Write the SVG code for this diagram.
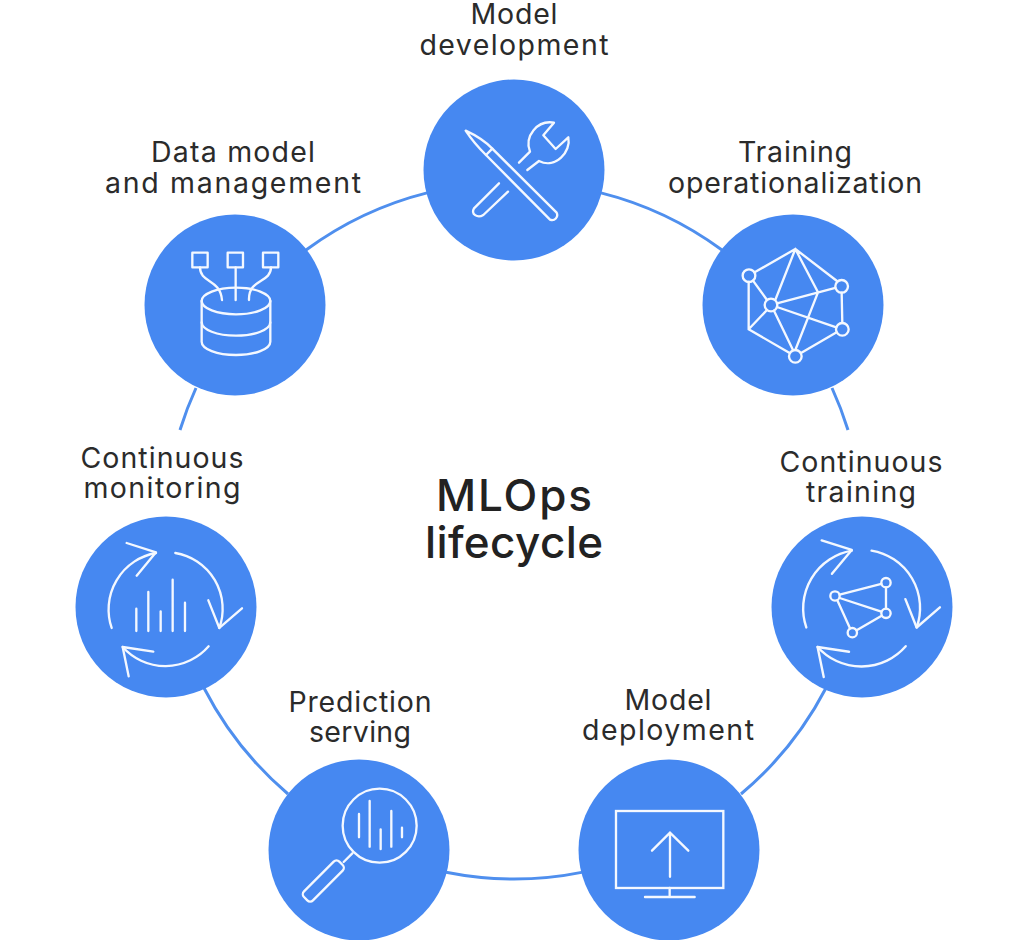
<svg xmlns="http://www.w3.org/2000/svg" width="1024" height="940" viewBox="0 0 1024 940">
<style>
.disc{fill:#4688f1}
.ring{fill:none;stroke:#4f8fee;stroke-width:3}
.ico{fill:none;stroke:#f4f8ff;stroke-width:7;stroke-linecap:round;stroke-linejoin:round}
.lbl{font-family:"Inter","Liberation Sans",sans-serif;font-size:28.5px;fill:#2b2b2b;text-anchor:middle}
.ttl{font-family:"Inter","Liberation Sans",sans-serif;font-size:44px;font-weight:500;fill:#222;text-anchor:middle}
</style>
<defs>
<g id="cycle-arcs">
<path d="M298 108A170 170 0 0 1 430 333"/><path d="M397 250L430 333L498 274"/>
<path d="M398 388A172 172 0 0 1 140 390"/><path d="M232 404L140 390L158 478"/>
<path d="M107 333A172 172 0 0 1 240 108"/><path d="M152 78L240 106L182 176"/>
</g>
</defs>
<g id="connectors">
<path class="ring" d="M180 430A348.6 348.6 0 0 1 196 388"/>
<path class="ring" d="M306 250A348.6 348.6 0 0 1 428 192.6"/>
<path class="ring" d="M600 192.6A348.6 348.6 0 0 1 722 250"/>
<path class="ring" d="M832 388A348.6 348.6 0 0 1 848 430"/>
<path class="ring" d="M826 688A348.6 348.6 0 0 1 741 794"/>
<path class="ring" d="M583 872.1A348.6 348.6 0 0 1 446 872.3"/>
<path class="ring" d="M288 794A348.6 348.6 0 0 1 204 688"/>
</g>
<g id="node-model-development">
<circle class="disc" cx="514" cy="170" r="90.5"/>
<g class="ico" transform="translate(424 80) scale(.3333)">
<path d="M125 152Q175 175 205 206L398 398C404 412 392 424 378 419L186 225Q150 190 125 152Z"/><path d="M186 225L205 206"/>
<path d="M225 310L150 385C140 402 160 416 178 405L252 335"/>
<path d="M285 248L318 215A65 65 0 0 1 390 128L358 166L395 207L433 172C442 215 395 268 345 243L310 270"/>
</g>
<text class="lbl"><tspan x="514" y="24" textLength="87">Model</tspan><tspan x="514" y="55" textLength="189">development</tspan></text>
</g>
<g id="node-data-model">
<circle class="disc" cx="235" cy="305" r="90.5"/>
<g class="ico" transform="translate(145 215) scale(.3333)">
<rect x="142" y="113" width="46" height="44"/><rect x="248" y="113" width="46" height="44"/><rect x="354" y="113" width="46" height="44"/>
<ellipse cx="273" cy="258" rx="103" ry="40"/>
<path d="M170 258V380C170 402 216 420 273 420S376 402 376 380V258"/><path d="M170 322C170 344 216 362 273 362S376 344 376 322"/>
<path d="M165 157C165 205 225 190 231 255"/><path d="M272 157V255"/><path d="M378 157C378 205 310 190 312 255"/>
</g>
<text class="lbl"><tspan x="233" y="162" textLength="164">Data model</tspan><tspan x="233" y="193" textLength="256">and management</tspan></text>
</g>
<g id="node-training-op">
<circle class="disc" cx="793" cy="305" r="90.5"/>
<g class="ico" transform="translate(703 215) scale(.3333)">
<circle cx="138" cy="182" r="19"/><circle cx="204" cy="270" r="19"/><circle cx="416" cy="214" r="19"/><circle cx="418" cy="343" r="19"/><circle cx="277" cy="424" r="19"/>
<path d="M155 172L277 102L402 198M416 233L418 324M401 352L294 414M260 414L137 343V201M150 197L192 255M277 102L218 252M277 102L345 232L277 405M222 265L397 219M222 276L400 337M192 285L137 343M213 287L270 405"/>
</g>
<text class="lbl"><tspan x="795" y="162" textLength="114">Training</tspan><tspan x="795" y="193" textLength="254">operationalization</tspan></text>
</g>
<g id="node-continuous-monitoring">
<circle class="disc" cx="166" cy="607" r="90.5"/>
<g class="ico" transform="translate(76 517) scale(.3333)">
<use href="#cycle-arcs"/>
<path d="M181 275V342M217 225V342M254 283V342M290 188V342M327 257V342"/>
</g>
<text class="lbl"><tspan x="162" y="468" textLength="163">Continuous</tspan><tspan x="162" y="498" textLength="157">monitoring</tspan></text>
</g>
<g id="node-continuous-training">
<circle class="disc" cx="862" cy="607" r="90.5"/>
<g class="ico" transform="translate(772 517) scale(.3333)">
<use href="#cycle-arcs" transform="translate(270 271) scale(1.025) translate(-270 -274)"/>
<circle cx="189" cy="237" r="14"/><circle cx="342" cy="197" r="14"/><circle cx="342" cy="289" r="14"/><circle cx="241" cy="347" r="14"/>
<path d="M203 233L328 201M342 211V275M328 284L203 243M329 296L254 340M196 250L234 334"/>
</g>
<text class="lbl"><tspan x="861" y="472" textLength="163">Continuous</tspan><tspan x="861" y="502" textLength="110">training</tspan></text>
</g>
<g id="node-prediction-serving">
<circle class="disc" cx="359" cy="850" r="90.5"/>
<g class="ico" transform="translate(269 760) scale(.3333)">
<circle cx="332" cy="197" r="111"/>
<path d="M270 162V232M302 123V260M335 208V267M367 153V260M399 203V232M250 280L224 306"/>
<rect x="88" y="344" width="150" height="38" rx="12" transform="rotate(-45 163 363)"/>
</g>
<text class="lbl"><tspan x="360" y="712" textLength="143">Prediction</tspan><tspan x="360" y="742" textLength="102">serving</tspan></text>
</g>
<g id="node-model-deployment">
<circle class="disc" cx="669" cy="850" r="90.5"/>
<g class="ico" transform="translate(579 760) scale(.3333)" style="stroke-linejoin:miter">
<rect x="111" y="153" width="322" height="231"/>
<path d="M272 384V411M198 411H347M273 350V218M219 272L273 218L328 272"/>
</g>
<text class="lbl"><tspan x="668" y="710" textLength="87">Model</tspan><tspan x="668" y="740" textLength="172">deployment</tspan></text>
</g>
<g id="title">
<text class="ttl"><tspan x="514" y="511" textLength="156">MLOps</tspan><tspan x="514" y="558" textLength="178">lifecycle</tspan></text>
</g>
</svg>
